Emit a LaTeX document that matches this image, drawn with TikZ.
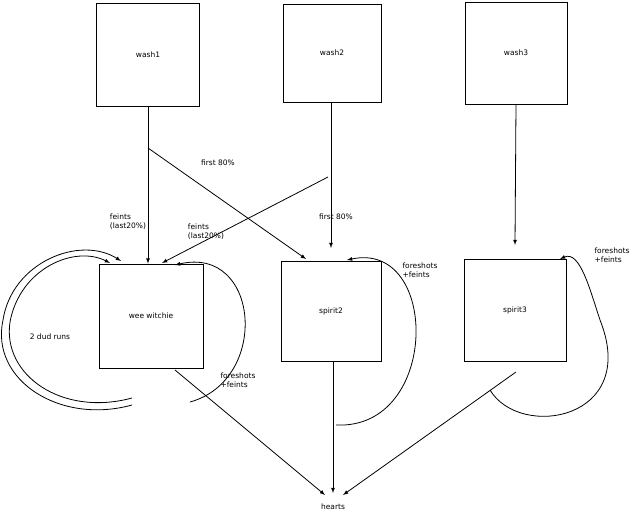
\documentclass[tikz,border=0pt]{standalone}
\usepackage{fontspec}
\setmainfont{DejaVu Sans}
\begin{document}
\begin{tikzpicture}[x=1pt,y=-1pt,
  box/.style={draw,thick,minimum width=#1,minimum height=#1,inner sep=0pt,font=\fontsize{7.5}{9}\selectfont},
  lab/.style={font=\fontsize{7.5}{9}\selectfont,align=left,inner sep=1pt},
  arr/.style={thick,-latex}]
\useasboundingbox (0,0) rectangle (640,516);
\node[box=103] (w1) at (148,55) {wash1};
\node[box=98] (w2) at (332,53) {wash2};
\node[box=102] (w3) at (516,53) {wash3};
\node[box=104] (ww) at (151,316) {wee witchie};
\node[box=100] (s2) at (331,311) {spirit2};
\node[box=102] (s3) at (515,310) {spirit3};
\node[lab] (h) at (333,507) {hearts};
\draw[arr] (w1.south) -- (ww.north -| w1.south);
\coordinate (a) at (148,148);
\draw[arr] (a) -- (306,259);
\node[lab] at (218,163) {first 80\%};
\draw[arr] (w2.south -| 331,0) -- (331,248);
\node[lab] at (336,217) {first 80\%};
\coordinate (b) at (328,177);
\draw[arr] (b) -- (162,263);
\node[lab] at (206,232) {feints\\(last20\%)};
\node[lab] at (128,222) {feints\\(last20\%)};
\draw[arr] (w3.south) -- (515,245);
% self loops
\draw[arr] (190,402) .. controls (270,380) and (260,245) .. (175,265);
\node[lab] at (238,380) {foreshots\\+feints};
\coordinate (l1) at (132,405);
\coordinate (l2) at (132,398);
\draw[arr] (l1) .. controls (60,425) and (-10,380) .. (3,320) .. controls (12,262) and (80,235) .. (121,261);
\draw[arr] (l2) .. controls (62,417) and (2,375) .. (10,322) .. controls (20,268) and (75,245) .. (110,263);
\node[lab] at (50,337) {2 dud runs};
\draw[arr] (336,425) .. controls (440,430) and (440,240) .. (347,260);
\node[lab] at (420,270) {foreshots\\+feints};
\draw[arr] (490,390) .. controls (520,440) and (640,420) .. (600,320) .. controls (590,290) and (580,250) .. (560,259);
\node[lab] at (612,255) {foreshots\\+feints};
\draw[arr] (175,370) -- (325,495);
\draw[arr] (333,362) -- (333,493);
\draw[arr] (516,372) -- (343,495);
\end{tikzpicture}
\end{document}
